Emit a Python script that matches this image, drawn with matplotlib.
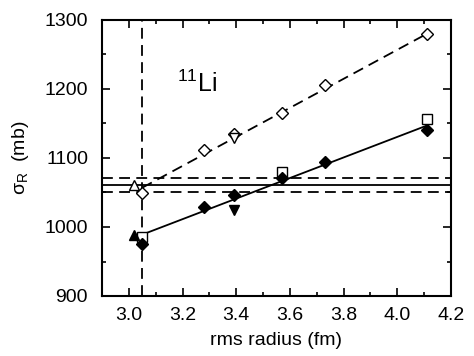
import matplotlib
matplotlib.use('Agg')
import matplotlib.pyplot as plt
from matplotlib.ticker import MultipleLocator

plt.rcParams['font.family'] = ['Liberation Sans', 'DejaVu Sans']
plt.rcParams['mathtext.fontset'] = 'custom'
plt.rcParams['mathtext.rm'] = 'Liberation Sans'

# open diamonds (dashed fit)
open_dia_x = [3.05, 3.28, 3.39, 3.57, 3.73, 4.11]
open_dia_y = [1049, 1111, 1135, 1165, 1206, 1280]
# filled diamonds (solid fit)
fill_dia_x = [3.05, 3.28, 3.39, 3.57, 3.73, 4.11]
fill_dia_y = [976, 1029, 1046, 1071, 1094, 1140]
# open squares
sq_x = [3.05, 3.57, 4.11]
sq_y = [985, 1079, 1156]
# triangles
open_up_x, open_up_y = [3.02], [1061]
fill_up_x, fill_up_y = [3.02], [988]
open_dn_x, open_dn_y = [3.39], [1129]
fill_dn_x, fill_dn_y = [3.39], [1025]

# fit lines
dash_fit_x = [3.05, 4.11]
dash_fit_y = [1057, 1280]
solid_fit_x = [3.05, 4.11]
solid_fit_y = [989, 1147]

# experimental band and radius
sigma_exp = 1061
sigma_lo, sigma_hi = 1051, 1071
r_exp = 3.05

dash = (0, (6, 3.5))

fig = plt.figure(figsize=(4.74, 3.56), dpi=100)
ax = fig.add_axes([102/474, 1 - 296/356, 349/474, 276/356])

ax.axhline(sigma_exp, color='black', lw=1.3)
ax.axhline(sigma_lo, color='black', lw=1.3, ls=dash)
ax.axhline(sigma_hi, color='black', lw=1.3, ls=dash)
ax.axvline(r_exp, color='black', lw=1.3, ls=dash)

ax.plot(dash_fit_x, dash_fit_y, color='black', lw=1.3, ls=dash)
ax.plot(solid_fit_x, solid_fit_y, color='black', lw=1.3)

ax.plot(open_dia_x, open_dia_y, 'D', ms=6.5, mfc='white', mec='black', mew=1.0, ls='none')
ax.plot(open_dn_x, open_dn_y, 'v', ms=7, mfc='white', mec='black', mew=1.0, ls='none')
ax.plot(open_up_x, open_up_y, '^', ms=7, mfc='white', mec='black', mew=1.0, ls='none')
ax.plot(sq_x, sq_y, 's', ms=6.5, mfc='white', mec='black', mew=1.0, ls='none')
ax.plot(fill_dia_x, fill_dia_y, 'D', ms=6.5, color='black', ls='none')
ax.plot(fill_up_x, fill_up_y, '^', ms=7, color='black', ls='none')
ax.plot(fill_dn_x, fill_dn_y, 'v', ms=7, color='black', ls='none')

ax.text(3.18, 1208, '$^{11}$Li', fontsize=18, ha='left', va='center')

ax.set_xlim(2.9, 4.2)
ax.set_ylim(900, 1300)
ax.xaxis.set_major_locator(MultipleLocator(0.2))
ax.xaxis.set_minor_locator(MultipleLocator(0.1))
ax.yaxis.set_major_locator(MultipleLocator(100))
ax.yaxis.set_minor_locator(MultipleLocator(50))
ax.tick_params(which='both', direction='in', top=True, right=True, labelsize=14, width=1.2)
ax.tick_params(which='major', length=6)
ax.tick_params(which='minor', length=3)
ax.tick_params(axis='y', pad=10)
ax.tick_params(axis='x', pad=8)
for s in ax.spines.values():
    s.set_linewidth(1.5)

ax.set_xlabel('rms radius (fm)', fontsize=14, labelpad=6)
ax.set_ylabel('σ$_{\\rm R}$  (mb)', fontsize=14, labelpad=10)

fig.savefig('out.png', dpi=100)
